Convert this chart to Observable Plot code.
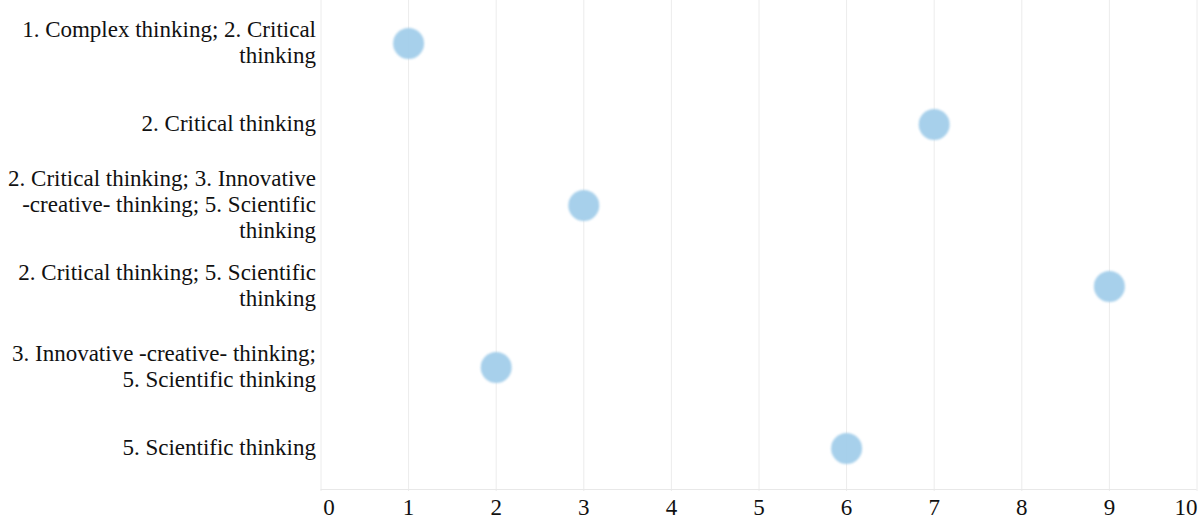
<!DOCTYPE html>
<html><head><meta charset="utf-8">
<script src="https://cdn.jsdelivr.net/npm/d3@7"></script>
<script src="https://cdn.jsdelivr.net/npm/@observablehq/plot@0.6"></script>
<style>body{margin:0;background:#fff} svg text{font-family:"Times New Roman","Liberation Serif",serif !important;}</style>
</head><body><div id="chart"></div>
<script>
const categories = [
  "1. Complex thinking; 2. Critical\nthinking",
  "2. Critical thinking",
  "2. Critical thinking; 3. Innovative\n-creative- thinking; 5. Scientific\nthinking",
  "2. Critical thinking; 5. Scientific\nthinking",
  "3. Innovative -creative- thinking;\n5. Scientific thinking",
  "5. Scientific thinking"
];
const values = [1, 7, 3, 9, 2, 6];
const xTicks = [0,1,2,3,4,5,6,7,8,9,10];
const data = categories.map((c, i) => ({category: c, value: values[i]}));

const chart = Plot.plot({
  width: 1200, height: 519,
  marginLeft: 320.5, marginRight: 3.5, marginTop: 0, marginBottom: 28,
  style: "font-family: 'Times New Roman', 'Liberation Serif', serif; font-size: 23px; color: #111; background: #fff;",
  x: {domain: [0, 10], ticks: xTicks},
  y: {type: "point", domain: categories, padding: 0.5},
  marks: [
    Plot.gridX(xTicks, {stroke: "#ececec", strokeOpacity: 1}),
    Plot.ruleY([categories[categories.length - 1]], {dy: 41, stroke: "#e8e8e8", x1: 0, x2: 10}),
    Plot.axisX(xTicks.slice(1, 10), {tickSize: 0, tickPadding: 7, label: null, fontSize: 23}),
    Plot.axisX([0], {tickSize: 0, tickPadding: 7, label: null, fontSize: 23, dx: 8}),
    Plot.axisX([10], {tickSize: 0, tickPadding: 7, label: null, fontSize: 23, dx: -11}),
    Plot.axisY({tickSize: 0, tickPadding: 5, label: null, lineHeight: 1.13, fontSize: 23, dy: -2}),
    Plot.dot(data, {x: "value", y: "category", r: 15.5, fill: "#a2cdea", fillOpacity: 0.95})
  ]
});
d3.select(chart).selectAll("g[aria-label=dot] circle").style("filter", "blur(1.3px)");
document.getElementById("chart").appendChild(chart);
</script></body></html>
